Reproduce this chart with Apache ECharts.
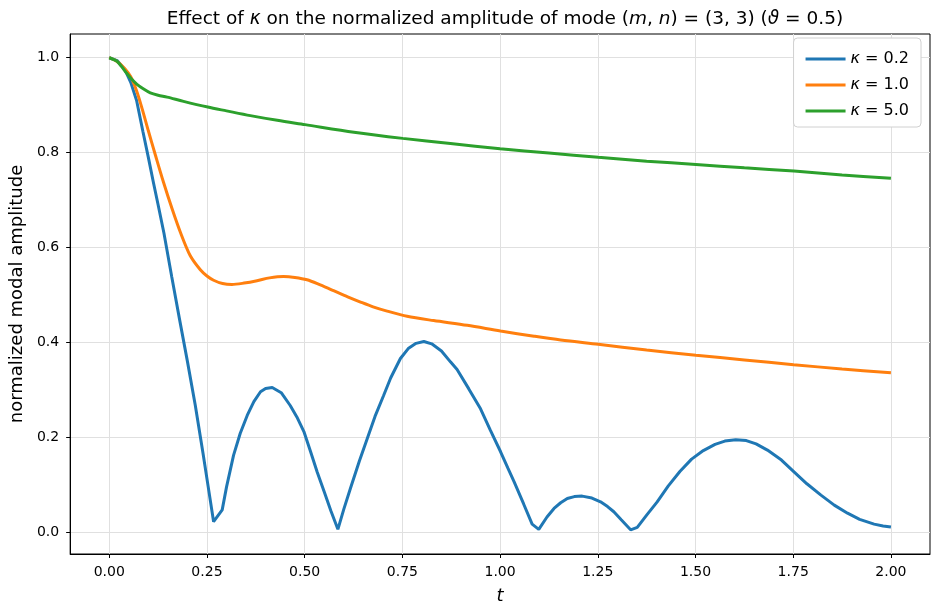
<!DOCTYPE html>
<html>
<head>
<meta charset="utf-8">
<script src="https://cdn.jsdelivr.net/npm/echarts@6/dist/echarts.min.js"></script>
<style>html,body{margin:0;padding:0;background:#fff}#c{width:939px;height:610px}</style>
</head>
<body>
<div id="c"></div>
<script>
const seriesNames = ['κ = 0.2', 'κ = 1.0', 'κ = 5.0'];
const xTicks = [0, 0.25, 0.5, 0.75, 1.0, 1.25, 1.5, 1.75, 2.0];
const yTicks = [0, 0.2, 0.4, 0.6, 0.8, 1.0];

const tBlue = [0,0.02,0.04,0.055,0.07,0.086,0.10,0.113,0.125,0.14,0.16,0.18,0.20,0.22,0.24,0.255,0.267,0.289,0.30,0.318,0.335,0.353,0.37,0.387,0.40,0.417,0.44,0.463,0.48,0.498,0.515,0.532,0.55,0.567,0.585,0.60,0.617,0.64,0.66,0.68,0.702,0.72,0.745,0.765,0.785,0.805,0.825,0.85,0.873,0.89,0.92,0.95,0.975,1.001,1.02,1.036,1.06,1.082,1.099,1.12,1.138,1.155,1.172,1.19,1.21,1.235,1.257,1.275,1.291,1.31,1.334,1.351,1.375,1.402,1.43,1.46,1.49,1.52,1.55,1.575,1.603,1.63,1.655,1.684,1.72,1.752,1.785,1.821,1.855,1.889,1.92,1.957,1.98,2.0];
const yBlue = [1.000,0.994,0.975,0.948,0.910,0.845,0.790,0.737,0.690,0.630,0.538,0.448,0.360,0.268,0.166,0.086,0.022,0.047,0.095,0.162,0.208,0.246,0.275,0.296,0.303,0.305,0.294,0.267,0.243,0.212,0.170,0.127,0.085,0.045,0.006,0.048,0.092,0.150,0.197,0.244,0.288,0.325,0.366,0.387,0.398,0.402,0.397,0.382,0.359,0.343,0.302,0.260,0.215,0.170,0.135,0.106,0.060,0.017,0.006,0.032,0.050,0.062,0.071,0.075,0.076,0.072,0.064,0.054,0.043,0.026,0.005,0.010,0.036,0.064,0.097,0.128,0.154,0.172,0.185,0.192,0.195,0.193,0.186,0.173,0.152,0.127,0.102,0.078,0.057,0.040,0.027,0.017,0.013,0.011];

const tOrange = [0,0.02,0.04,0.055,0.071,0.085,0.10,0.118,0.139,0.161,0.182,0.207,0.233,0.25,0.267,0.29,0.314,0.345,0.378,0.41,0.446,0.475,0.506,0.54,0.574,0.61,0.643,0.675,0.711,0.762,0.83,0.916,1.001,1.087,1.155,1.251,1.375,1.501,1.625,1.751,1.875,2.0];
const yOrange = [1.000,0.992,0.977,0.960,0.928,0.890,0.846,0.795,0.737,0.681,0.632,0.583,0.553,0.540,0.531,0.524,0.522,0.525,0.530,0.536,0.539,0.537,0.532,0.521,0.509,0.496,0.485,0.475,0.466,0.455,0.446,0.436,0.424,0.413,0.405,0.396,0.384,0.373,0.363,0.353,0.344,0.336];

const tGreen = [0,0.019,0.03,0.044,0.057,0.071,0.088,0.105,0.125,0.148,0.19,0.252,0.30,0.361,0.43,0.501,0.626,0.751,0.873,1.0,1.125,1.251,1.375,1.501,1.625,1.752,1.875,2.0];
const yGreen = [1.000,0.993,0.983,0.968,0.955,0.944,0.934,0.926,0.921,0.917,0.908,0.896,0.888,0.878,0.868,0.859,0.843,0.830,0.819,0.808,0.799,0.790,0.782,0.775,0.768,0.761,0.753,0.746];

const colors = ['#1f77b4', '#ff7f0e', '#2ca02c'];
const FONT = 'DejaVu Sans';
const zip = (a, b) => a.map((v, i) => [v, b[i]]);
const datasets = [zip(tBlue, yBlue), zip(tOrange, yOrange), zip(tGreen, yGreen)];

const chart = echarts.init(document.getElementById('c'), null, {renderer: 'canvas'});
chart.setOption({
  animation: false,
  backgroundColor: '#fff',
  title: {
    text: 'Effect of {i|κ} on the normalized amplitude of mode ({i|m}, {i|n}) = (3, 3) ({i|ϑ} = 0.5)',
    left: 500, top: 5, textAlign: 'center',
    textStyle: {fontFamily: FONT, fontSize: 18.5, fontWeight: 'normal', color: '#000',
      rich: {i: {fontFamily: FONT, fontSize: 18.5, fontStyle: 'italic', color: '#000'}}}
  },
  grid: {left: 70, right: 9, top: 34, bottom: 54, show: true, borderColor: '#000', borderWidth: 1, backgroundColor: 'transparent'},
  legend: {
    right: 18, top: 38, orient: 'vertical',
    icon: 'rect', itemWidth: 40, itemHeight: 3, itemGap: 10,
    padding: [13, 12, 8, 12],
    backgroundColor: '#fff', borderColor: '#d0d0d0', borderWidth: 1, borderRadius: 4,
    data: seriesNames,
    formatter: n => '{i|κ}' + n.slice(1),
    textStyle: {fontFamily: FONT, fontSize: 16, color: '#000',
      rich: {i: {fontFamily: FONT, fontSize: 16, fontStyle: 'italic', color: '#000'}}}
  },
  xAxis: {
    type: 'value', min: -0.1, max: 2.1,
    name: 't', nameLocation: 'middle', nameGap: 33,
    nameTextStyle: {fontFamily: FONT, fontSize: 18, fontStyle: 'italic', color: '#000'},
    axisLine: {show: true, onZero: false, lineStyle: {color: '#000', width: 1}},
    axisTick: {show: true, length: 4, inside: false, customValues: xTicks, lineStyle: {color: '#000'}},
    axisLabel: {customValues: xTicks, margin: 11, fontFamily: FONT, fontSize: 14, color: '#000', formatter: v => v.toFixed(2)},
    splitLine: {show: true, lineStyle: {color: '#e0e0e0', width: 1}}
  },
  yAxis: {
    type: 'value', min: -0.046, max: 1.05,
    name: 'normalized modal amplitude', nameLocation: 'middle', nameGap: 39,
    nameTextStyle: {fontFamily: FONT, fontSize: 18, color: '#000'},
    axisLine: {show: true, onZero: false, lineStyle: {color: '#000', width: 1}},
    axisTick: {show: true, length: 4, inside: false, customValues: yTicks, lineStyle: {color: '#000'}},
    axisLabel: {customValues: yTicks, margin: 11, fontFamily: FONT, fontSize: 14, color: '#000', formatter: v => v.toFixed(1)},
    splitLine: {show: true, lineStyle: {color: '#e0e0e0', width: 1}}
  },
  series: seriesNames.map((n, i) => ({
    name: n, type: 'line', data: datasets[i], showSymbol: false, symbol: 'none',
    smooth: i === 0 ? false : 0.3,
    lineStyle: {color: colors[i], width: 3}, itemStyle: {color: colors[i]}, z: 3 + i
  }))
});
</script>
</body>
</html>
